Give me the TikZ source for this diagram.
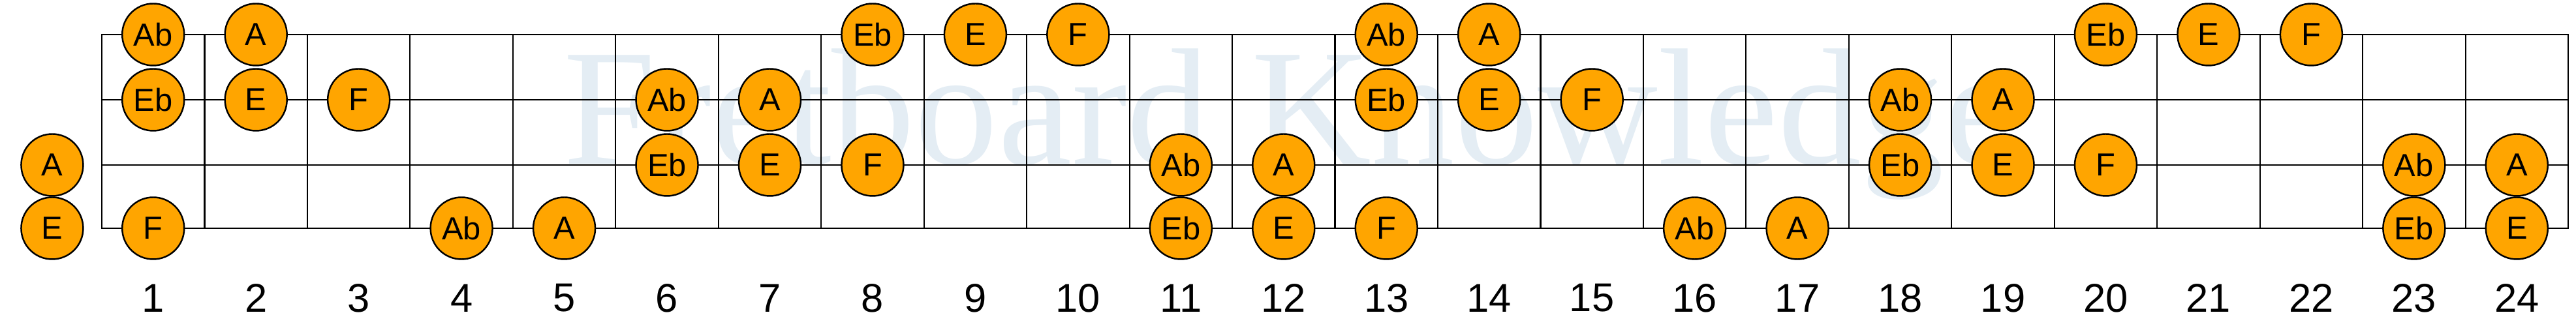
\documentclass[tikz,border=0pt]{standalone}
\usepackage{fontspec}
\setmainfont{Liberation Sans}
\newfontfamily\wmfont{Liberation Serif}
\definecolor{noteorange}{HTML}{FFA500}
\definecolor{wmblue}{RGB}{228,237,244}

\begin{document}
\begin{tikzpicture}[x=1.5746cm,y=1cm,
    note/.style={shape=circle,draw=black,fill=noteorange,line width=0.7pt,
      minimum size=0.95cm,inner sep=0pt,font=\fontsize{13.9}{16}\selectfont},
    fretnum/.style={font=\fontsize{17.5}{20}\selectfont},
    fretline/.style={line width=0.6pt,line cap=rect,black}]
      \useasboundingbox (-0.9907,-1.56) rectangle (24.076,3.50);

      \node[anchor=base west,text=wmblue,inner sep=0pt,
        font=\wmfont\fontsize{72.5}{80}\selectfont] (WM) at (4.49,0.98) {Fretboard Knowledge};

      % strings and frets
      \foreach \y in {0,0.97,1.97,2.97} \draw[fretline] (0,\y) -- (24,\y);
      \foreach \k in {0,...,24} \draw[fretline] (\k,0) -- (\k,2.97);

      % open strings
      \node[note] (A0) at (-0.483,0.97) {A};
      \node[note] (E0) at (-0.483,0) {E};

      % G string
      \node[note] (G1) at (0.5,2.97) {Ab};
      \node[note] (G2) at (1.5,2.97) {A};
      \node[note] (G8) at (7.5,2.97) {Eb};
      \node[note] (G9) at (8.5,2.97) {E};
      \node[note] (G10) at (9.5,2.97) {F};
      \node[note] (G13) at (12.5,2.97) {Ab};
      \node[note] (G14) at (13.5,2.97) {A};
      \node[note] (G20) at (19.5,2.97) {Eb};
      \node[note] (G21) at (20.5,2.97) {E};
      \node[note] (G22) at (21.5,2.97) {F};

      % D string
      \node[note] (D1) at (0.5,1.97) {Eb};
      \node[note] (D2) at (1.5,1.97) {E};
      \node[note] (D3) at (2.5,1.97) {F};
      \node[note] (D6) at (5.5,1.97) {Ab};
      \node[note] (D7) at (6.5,1.97) {A};
      \node[note] (D13) at (12.5,1.97) {Eb};
      \node[note] (D14) at (13.5,1.97) {E};
      \node[note] (D15) at (14.5,1.97) {F};
      \node[note] (D18) at (17.5,1.97) {Ab};
      \node[note] (D19) at (18.5,1.97) {A};

      % A string
      \node[note] (A6) at (5.5,0.97) {Eb};
      \node[note] (A7) at (6.5,0.97) {E};
      \node[note] (A8) at (7.5,0.97) {F};
      \node[note] (A11) at (10.5,0.97) {Ab};
      \node[note] (A12) at (11.5,0.97) {A};
      \node[note] (A18) at (17.5,0.97) {Eb};
      \node[note] (A19) at (18.5,0.97) {E};
      \node[note] (A20) at (19.5,0.97) {F};
      \node[note] (A23) at (22.5,0.97) {Ab};
      \node[note] (A24) at (23.5,0.97) {A};

      % E string
      \node[note] (E1) at (0.5,0) {F};
      \node[note] (E4) at (3.5,0) {Ab};
      \node[note] (E5) at (4.5,0) {A};
      \node[note] (E11) at (10.5,0) {Eb};
      \node[note] (E12) at (11.5,0) {E};
      \node[note] (E13) at (12.5,0) {F};
      \node[note] (E16) at (15.5,0) {Ab};
      \node[note] (E17) at (16.5,0) {A};
      \node[note] (E23) at (22.5,0) {Eb};
      \node[note] (E24) at (23.5,0) {E};

      % fret numbers
      \foreach \k in {1,...,24} \node[fretnum] (N\k) at (\k-0.5,-1.07) {\k};
  \end{tikzpicture}
\end{document}
